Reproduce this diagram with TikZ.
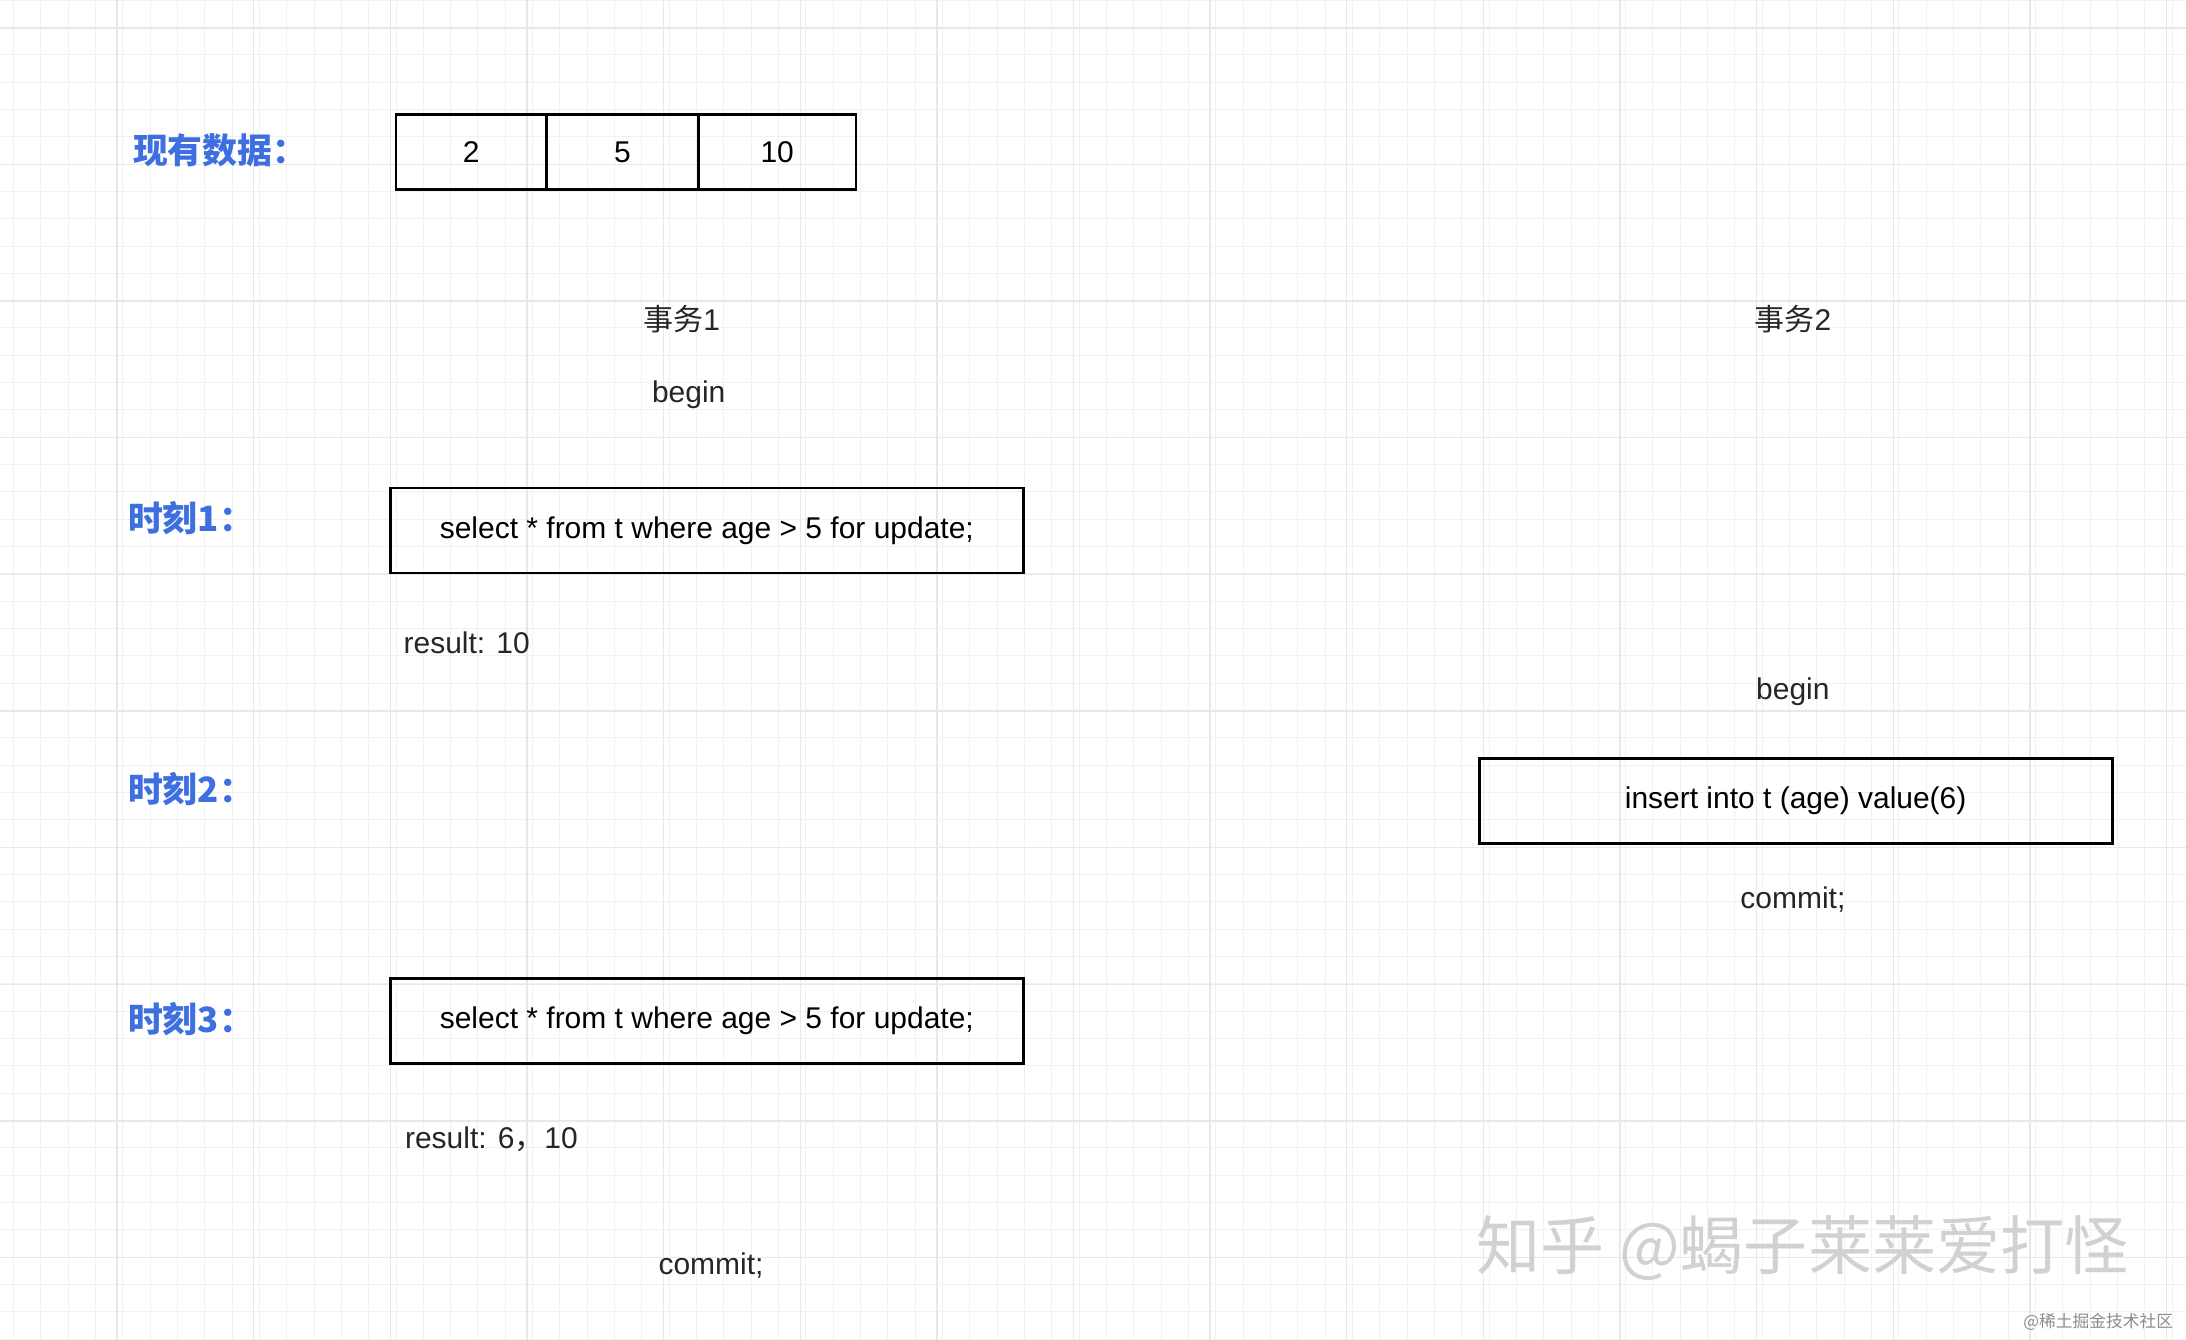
\documentclass[tikz,border=0pt]{standalone}
\usepackage{fontspec}
\setmainfont{Liberation Sans}
\newfontfamily\cjk{Noto Sans CJK SC}
\definecolor{blu}{HTML}{3D6FE0}
\definecolor{gridc}{HTML}{E8E8E8}
\begin{document}
\begin{tikzpicture}[x=1pt,y=-1pt,
  lab/.style={font=\fontsize{21.5}{24}\selectfont,text=black!85},
  tl/.style={font=\cjk\fontsize{25}{30}\selectfont\bfseries,text=blu},
  cell/.style={draw,line width=2pt,minimum height=54pt,font=\fontsize{21.5}{24}\selectfont,inner sep=0pt,anchor=north west},
  sbox/.style={draw,line width=2pt,minimum width=454pt,minimum height=61pt,font=\fontsize{21.5}{24}\selectfont,inner sep=0pt,anchor=north west}]
\useasboundingbox (0,0) rectangle (1568,961);
\fill[white] (0,0) rectangle (1568,961);
\foreach \i in {0,...,80} \draw[gridc!60,line width=0.6pt] ({\i*19.6-10},0) -- ({\i*19.6-10},961);
\foreach \i in {0,...,50} \draw[gridc!60,line width=0.6pt] (0,{\i*19.6-0}) -- (1568,{\i*19.6-0});
\foreach \i in {0,...,16} \draw[gridc,line width=1pt] ({\i*98-14},0) -- ({\i*98-14},961);
\foreach \i in {0,...,10} \draw[gridc,line width=1pt] (0,{\i*98+20}) -- (1568,{\i*98+20});
\node[tl] (d) at (158,108) {现有数据：};
\node[cell,minimum width=108pt] (c1) at (283,81) {2};
\node[cell,minimum width=109pt] (c2) at (391,81) {5};
\node[cell,minimum width=113pt] (c3) at (500,81) {10};
\node[lab] (t1) at (489,229) {{\cjk 事务}1};
\node[lab] (b1) at (494,283) {begin};
\node[tl] (m1) at (137,372) {时刻1：};
\node[sbox] (s1) at (279,349) {select * from t where age > 5 for update;};
\node[lab,anchor=west] (r1) at (286,461) {result: 10};
\node[lab] (t2) at (1286,229) {{\cjk 事务}2};
\node[lab] (b2) at (1286,496) {begin};
\node[tl] (m2) at (137,566) {时刻2：};
\node[sbox] (s2) at (1060,543) {insert into t (age) value(6)};
\node[lab] (cm2) at (1286,645) {commit;};
\node[tl] (m3) at (137,731) {时刻3：};
\node[sbox] (s3) at (279,701) {select * from t where age > 5 for update;};
\node[lab,anchor=west] (r3) at (287,817) {result: 6{\cjk ，}10};
\node[lab] (cm1) at (510,908) {commit;};
\node[font=\cjk\fontsize{46}{50}\selectfont,text=black!18] (wm2) at (1293,895) {知乎 @蝎子莱莱爱打怪};
\node[font=\cjk\fontsize{12}{14}\selectfont,text=black!45] (wm3) at (1505,948) {@稀土掘金技术社区};
\end{tikzpicture}
\end{document}
